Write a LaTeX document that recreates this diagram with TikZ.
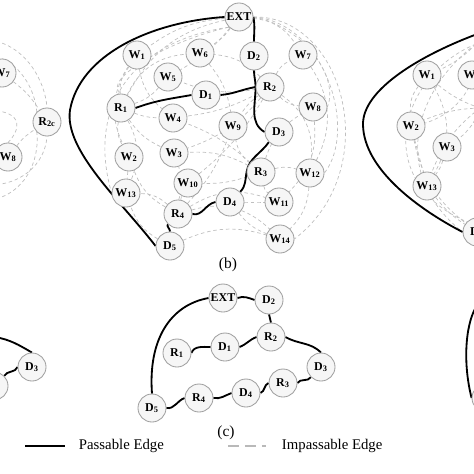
\documentclass[tikz,border=0pt]{standalone}
\usepackage{fontspec}
\setmainfont{Liberation Serif}
\usepackage{tikz}
\usetikzlibrary{positioning}
\usetikzlibrary{backgrounds}
\tikzstyle{place} = [circle, draw=gray!75, fill=gray!7, line width=0.6pt, minimum size=0.7cm, inner sep=0pt, font=\bfseries\fontsize{8.5}{9}\selectfont]
\tikzstyle{pass} = [line width=1.3pt, black]
\tikzstyle{imp} = [gray!50, line width=0.5pt, dash pattern=on 2.5pt off 2pt]
\tikzstyle{caption} = [font=\fontsize{11}{12}\selectfont]

\begin{document}
\begin{tikzpicture}[x=0.025cm, y=-0.025cm]
  \useasboundingbox (0,0) rectangle (474,474);
  % panel (a), cut at the left
  \node(aw7)[place] at (2,73) {W\textsubscript{7}};
  \node(ar2c)[place] at (47,122) {R\textsubscript{2c}};
  \node(aw8)[place] at (8,157) {W\textsubscript{8}};
  \coordinate(al1) at (-10,40);
  \coordinate(al2) at (-10,55);
  \coordinate(al3) at (-10,185);
  \coordinate(al4) at (-10,200);
  \coordinate(al5) at (-10,110);
  % panel (b)
  \node(bext)[place] at (239,17) {EXT};
  \node(bw1)[place] at (137,55) {W\textsubscript{1}};
  \node(bw6)[place] at (200,53) {W\textsubscript{6}};
  \node(bd2)[place] at (254,56) {D\textsubscript{2}};
  \node(bw7)[place] at (303,55) {W\textsubscript{7}};
  \node(bw5)[place] at (168,77) {W\textsubscript{5}};
  \node(bd1)[place] at (206,95) {D\textsubscript{1}};
  \node(br2)[place] at (270,87) {R\textsubscript{2}};
  \node(bw8)[place] at (313,107) {W\textsubscript{8}};
  \node(br1)[place] at (121,108) {R\textsubscript{1}};
  \node(bw4)[place] at (173,118) {W\textsubscript{4}};
  \node(bw9)[place] at (233,126) {W\textsubscript{9}};
  \node(bd3)[place] at (279,132) {D\textsubscript{3}};
  \node(bw2)[place] at (129,157) {W\textsubscript{2}};
  \node(bw3)[place] at (174,153) {W\textsubscript{3}};
  \node(br3)[place] at (261,172) {R\textsubscript{3}};
  \node(bw12)[place] at (310,173) {W\textsubscript{12}};
  \node(bw10)[place] at (188,183) {W\textsubscript{10}};
  \node(bw13)[place] at (126,193) {W\textsubscript{13}};
  \node(bd4)[place] at (230,202) {D\textsubscript{4}};
  \node(bw11)[place] at (279,202) {W\textsubscript{11}};
  \node(br4)[place] at (178,214) {R\textsubscript{4}};
  \node(bd5)[place] at (170,246) {D\textsubscript{5}};
  \node(bw14)[place] at (280,239) {W\textsubscript{14}};
  \node(lb)[caption] at (228,265) {(b)};
  % panel (c)
  \node(cext)[place] at (223,298) {EXT};
  \node(cd2)[place] at (269,300) {D\textsubscript{2}};
  \node(cr2)[place] at (271,337) {R\textsubscript{2}};
  \node(cd1)[place] at (225,347) {D\textsubscript{1}};
  \node(cr1)[place] at (177,353) {R\textsubscript{1}};
  \node(cd3)[place] at (321,367) {D\textsubscript{3}};
  \node(cr3)[place] at (283,383) {R\textsubscript{3}};
  \node(cd4)[place] at (246,393) {D\textsubscript{4}};
  \node(cr4)[place] at (199,398) {R\textsubscript{4}};
  \node(cd5)[place] at (152,408) {D\textsubscript{5}};
  \node(lc)[caption] at (226,433) {(c)};
  % panel at the right, cut
  \node(rw1)[place] at (427,75) {W\textsubscript{1}};
  \node(rw7)[place] at (472,75) {W\textsubscript{7}};
  \node(rw2)[place] at (411,126) {W\textsubscript{2}};
  \node(rw3)[place] at (447,147) {W\textsubscript{3}};
  \node(rw13)[place] at (427,186) {W\textsubscript{13}};
  \node(rd5)[place] at (477,232) {D\textsubscript{5}};
  \coordinate(rhub) at (480,108);
  \coordinate(rtop) at (480,33);
  \coordinate(rtop2) at (476,44);
  % bottom corners, cut
  \node(ld3)[place] at (32,367) {D\textsubscript{3}};
  \node(lr3)[place] at (-6,386) {R\textsubscript{3}};
  \coordinate(lend) at (-5,337);
  \node(qd5)[place] at (486,398) {D\textsubscript{5}};
  \coordinate(qend) at (478,304);
  % legend
  \coordinate(lp1) at (25,446);
  \coordinate(lp2) at (65,446);
  \node(lpt)[anchor=west, font=\fontsize{10.5}{12}\selectfont] at (74,446) {Passable Edge};
  \coordinate(li1) at (228,446);
  \coordinate(li2) at (266,446);
  \node(lit)[anchor=west, font=\fontsize{10.5}{12}\selectfont] at (277,446) {Impassable Edge};

  \begin{scope}[on background layer]
    % impassable edges
    \draw[imp] (al1) .. controls (25,45) and (45,80) .. (ar2c.north);
    \draw[imp] (al2) .. controls (20,60) and (35,90) .. (ar2c.north west);
    \draw[imp] (aw7) to[bend left=10] (ar2c);
    \draw[imp] (aw8) to[bend left=10] (ar2c);
    \draw[imp] (al3) .. controls (20,185) and (45,165) .. (ar2c.south);
    \draw[imp] (al4) .. controls (25,195) and (40,160) .. (ar2c.south west);
    \draw[imp] (al5) .. controls (25,112) and (20,130) .. (aw8.north);
    \foreach \a/\b/\c in {bext/bw1/-15, bext/bw6/10, bext/br1/-25, bext/bw7/25, bext/bw5/10,
        br2/bw6/-20, br2/bw5/15, br2/bw4/10, br2/bw9/-10, br2/bw3/15, br2/bw7/20, br2/bw8/-20,
        br2/bw12/30, br2/bw10/10,
        br1/bw1/20, br1/bw5/-15, br1/bw4/-10, br1/bw2/-20, br1/bw3/-15, br1/bw13/25, br1/bw6/30,
        br3/bw9/20, br3/bw3/-15, br3/bw12/15, br3/bw11/-20, br3/bw8/20, br3/bw10/10, br3/bw4/-10,
        br4/bw13/-20, br4/bw2/20, br4/bw3/-15, br4/bw10/15, br4/bw11/25, br4/bw14/30, br4/bw9/-10,
        bd5/bw14/20, bd5/bw13/20, bd4/bw11/0, bd4/bw14/-15,
        bw7/bw12/30, bw8/bw11/25, bw12/bw14/20, bw1/bw2/-30, bw2/bw13/0, bw6/bw9/15, bw1/bw4/-20}
      \draw[imp] (\a) to[bend left=\c] (\b);
    \draw[imp] (bext.east) .. controls (345,15) and (385,170) .. (bw14.east);
    \draw[imp] (bext.east) .. controls (325,22) and (358,130) .. (bw12.east);
    \draw[imp] (bext.east) .. controls (300,25) and (340,75) .. (bw8.east);
    \draw[imp] (bext.south west) .. controls (140,40) and (85,100) .. (bw13.west);
    \draw[imp] (bext.south west) .. controls (170,40) and (100,80) .. (br1.north);
    \foreach \a/\b/\c in {rhub/rw1/10, rhub/rw2/-10, rhub/rw3/15, rhub/rw13/-15, rw1/rw2/-20,
        rw2/rw13/0, rw13/rd5/-10, rw2/rd5/-20, rw1/rw13/30, rtop2/rw1/10, rtop2/rw2/40, rw3/rw13/10}
      \draw[imp] (\a) to[bend left=\c] (\b);
    \draw[imp] (rtop2) .. controls (400,75) and (370,180) .. (rd5.north west);
    \draw[imp] (rtop2) .. controls (420,85) and (385,170) .. (rd5.west);
    % passable edges
    \draw[pass] (bext.west) .. controls (150,22) and (80,55) .. (70,110) .. controls (64,150) and (120,200) .. (bd5.west);
    \draw[pass] (bext.east) to[out=-80, in=90] (bd2.north);
    \draw[pass] (bd2.south) to[out=-90, in=90] (br2.west);
    \draw[pass] (br2.west) to[out=-90, in=150] (bd3.west);
    \draw[pass] (br1.east) to[out=20, in=190] (bd1.west);
    \draw[pass] (bd1.east) to[out=5, in=190] (br2.west);
    \draw[pass] (bd3.south west) to[out=-125, in=80] (br3.west);
    \draw[pass] (br3.west) to[out=-100, in=45] (bd4.north east);
    \draw[pass] (bd4.west) to[out=190, in=-15] (br4.east);
    \draw[pass] (br4.south west) to[out=240, in=85] (bd5.north);
    \draw[pass] (cext.east) to[out=20, in=160] (cd2.west);
    \draw[pass] (cd2.south) -- (cr2.north);
    \draw[pass] (cr2.west) to[out=200, in=20] (cd1.east);
    \draw[pass] (cd1.west) to[out=180, in=70] (cr1.east);
    \draw[pass] (cr2.east) to[out=-30, in=135] (cd3.north);
    \draw[pass] (cd3.south west) to[out=-120, in=60] (cr3.east);
    \draw[pass] (cr3.west) to[out=200, in=20] (cd4.east);
    \draw[pass] (cd4.west) to[out=200, in=-10] (cr4.east);
    \draw[pass] (cr4.west) to[out=200, in=-10] (cd5.east);
    \draw[pass] (cd5.north) .. controls (148,340) and (170,305) .. (cext.west);
    \draw[pass] (rtop) .. controls (420,55) and (362,90) .. (363,125) .. controls (364,170) and (420,210) .. (rd5.west);
    \draw[pass] (lend) to[out=-10, in=150] (ld3.north);
    \draw[pass] (ld3.west) to[out=-110, in=60] (lr3.north east);
    \draw[pass] (qend) .. controls (466,320) and (462,360) .. (qd5.west);
    % legend
    \draw[pass] (lp1) -- (lp2);
    \draw[gray!55, line width=1pt, dash pattern=on 8pt off 4pt] (li1) -- (li2);
  \end{scope}
\end{tikzpicture}
\end{document}
